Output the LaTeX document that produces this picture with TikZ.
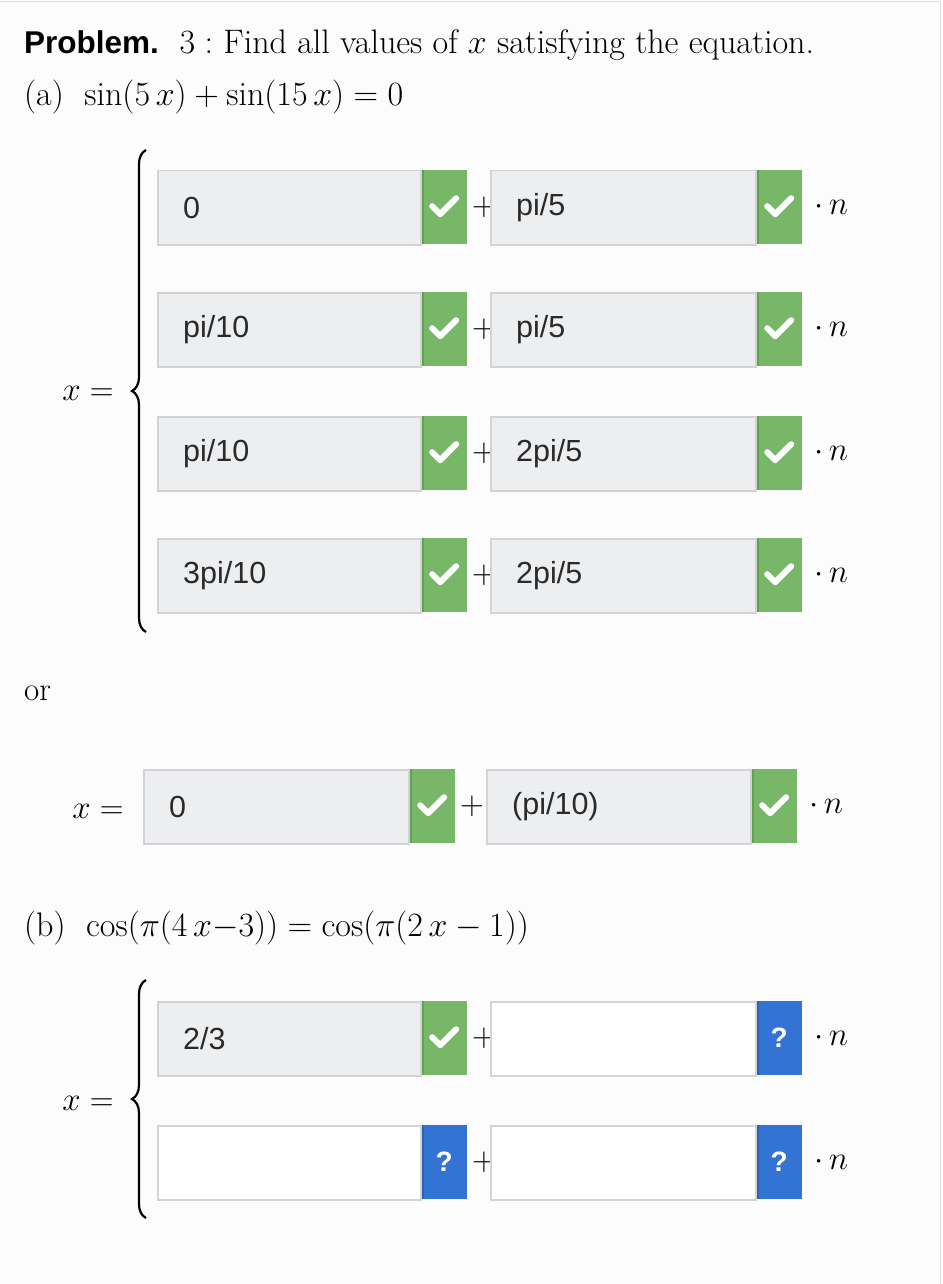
\RequirePackage{fix-cm}
\documentclass[tikz,border=0pt]{standalone}
\usepackage{fontspec}
\newfontfamily\sans{Liberation Sans}
\usetikzlibrary{decorations.pathreplacing}
\definecolor{okg}{HTML}{77B767}
\definecolor{okgd}{HTML}{5FA352}
\definecolor{qb}{HTML}{3273D3}
\definecolor{qbd}{HTML}{2A62B8}
\definecolor{fg}{HTML}{EDEEF0}
\definecolor{fb}{HTML}{D3D3D5}
\definecolor{bg}{HTML}{FCFCFC}
\definecolor{tx}{HTML}{2A2A2A}
\tikzset{
 fieldbox/.style={draw=fb,line width=1.5pt,fill=#1,minimum height=74pt,anchor=north west,inner sep=0pt},
 chk/.style={fill=okg,minimum width=45pt,minimum height=74pt,anchor=north west,inner sep=0pt,draw=none},
 qbox/.style={fill=qb,minimum width=45pt,minimum height=74pt,anchor=north west,inner sep=0pt,draw=none,text=white,font=\sans\bfseries\fontsize{28}{34}\selectfont},
 ftext/.style={anchor=west,text=tx,font=\sans\fontsize{30.5}{34}\selectfont,inner sep=0pt},
 mtext/.style={font=\fontsize{33}{38}\selectfont,inner sep=0pt,text=black},
 ttext/.style={anchor=base west,inner sep=0pt,font=\fontsize{34}{40}\selectfont},
}
\newcommand{\tick}[1]{\draw[white,line width=6pt,line cap=round,line join=round] ([xshift=-12pt,yshift=1pt]#1.center) -- ([xshift=-4pt,yshift=-7pt]#1.center) -- ([xshift=12pt,yshift=9pt]#1.center);
 \draw[okgd,line width=2pt] ([xshift=1pt]#1.north west) -- ([xshift=1pt]#1.south west);}
\newcommand{\okrow}[8]{%
 \node[fieldbox=fg,minimum width=#5pt] (#1a) at (#3,#2) {};
 \node[ftext] at ([xshift=26pt]#1a.west) {#7};
 \node[chk] (#1b) at ([xshift=0pt]#1a.north east) {}; \tick{#1b}
 \node[mtext] (#1p) at ([xshift=17pt]#1b.east) {$+$};
 \node[fieldbox=fg,minimum width=#6pt] (#1c) at (#4,#2) {};
 \node[ftext] at ([xshift=26pt]#1c.west) {#8};
 \node[chk] (#1d) at (#1c.north east) {}; \tick{#1d}
 \node[mtext,anchor=west] (#1n) at ([xshift=12pt]#1d.east) {$\cdot\, n$};
}
\begin{document}
\begin{tikzpicture}[x=1pt,y=-1pt]
\fill[bg] (0,0) rectangle (942,1284);
\useasboundingbox (0,0) rectangle (942,1284);
\draw[fb!70,line width=1pt] (0,2) -- (940,2) -- (940,1284);
\node[ttext] (title) at (24,54) {{\sans\bfseries\fontsize{31.5}{38}\selectfont Problem.}\ \ $3:$ Find all values of $x$ satisfying the equation.};
\node[ttext] (pa) at (24,106) {(a)\ \ $\sin(5\,x)+\sin(15\,x)=0$};
\okrow{r1}{170}{157}{490}{263}{265}{0}{pi/5}
\okrow{r2}{292}{157}{490}{263}{265}{pi/10}{pi/5}
\okrow{r3}{416}{157}{490}{263}{265}{pi/10}{2pi/5}
\okrow{r4}{538}{157}{490}{263}{265}{3pi/10}{2pi/5}
\draw[decorate,decoration={brace,amplitude=14pt,mirror},line width=2.2pt] (146,150) -- (146,632);
\node[mtext,anchor=base] (xa) at (88,400) {$x=$};
\node[mtext,anchor=base west] (or) at (24,700) {or};
\node[mtext,anchor=base] (xb) at (98,818) {$x=$};
\okrow{r5}{769}{143}{486}{265}{264}{0}{(pi/10)}
\node[ttext] (pb) at (24,936) {(b)\ \ $\cos(\pi(4\,x{-}3))=\cos(\pi(2\,x-1))$};
\node[fieldbox=fg,minimum width=263pt] (s1a) at (157,1001) {};
\node[ftext] at ([xshift=26pt]s1a.west) {2/3};
\node[chk] (s1b) at (s1a.north east) {}; \tick{s1b}
\node[mtext] (s1p) at ([xshift=17pt]s1b.east) {$+$};
\node[fieldbox=white,minimum width=265pt] (s1c) at (490,1001) {};
\node[qbox] (s1d) at (s1c.north east) {?};
\draw[qbd,line width=2pt] ([xshift=1pt]s1d.north west) -- ([xshift=1pt]s1d.south west);
\node[mtext,anchor=west] (s1n) at ([xshift=12pt]s1d.east) {$\cdot\, n$};
\node[fieldbox=white,minimum width=263pt] (s2a) at (157,1125) {};
\node[qbox] (s2b) at (s2a.north east) {?};
\draw[qbd,line width=2pt] ([xshift=1pt]s2b.north west) -- ([xshift=1pt]s2b.south west);
\node[mtext] (s2p) at ([xshift=17pt]s2b.east) {$+$};
\node[fieldbox=white,minimum width=265pt] (s2c) at (490,1125) {};
\node[qbox] (s2d) at (s2c.north east) {?};
\draw[qbd,line width=2pt] ([xshift=1pt]s2d.north west) -- ([xshift=1pt]s2d.south west);
\node[mtext,anchor=west] (s2n) at ([xshift=12pt]s2d.east) {$\cdot\, n$};
\draw[decorate,decoration={brace,amplitude=14pt,mirror},line width=2.2pt] (146,980) -- (146,1218);
\node[mtext,anchor=base] (xc) at (88,1110) {$x=$};
\end{tikzpicture}
\end{document}
